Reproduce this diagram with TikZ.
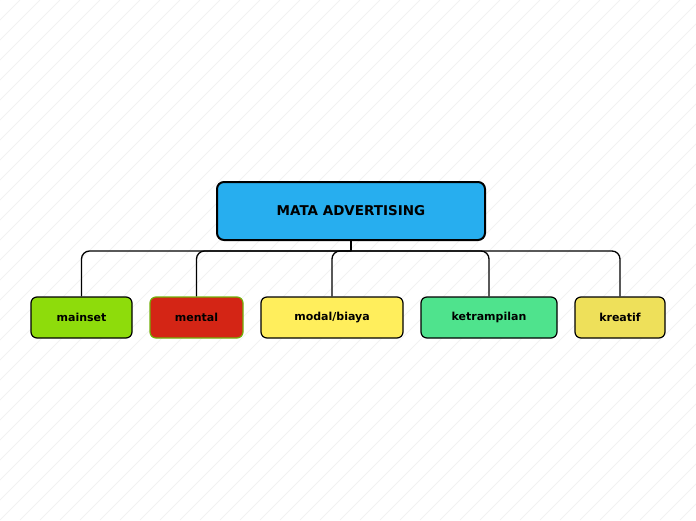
\documentclass[tikz,border=0pt]{standalone}
\usepackage{fontspec}
\setmainfont{DejaVu Sans}
\definecolor{rootc}{HTML}{27AEEF}
\definecolor{c1}{HTML}{8EDC0B}
\definecolor{c2}{HTML}{D42515}
\definecolor{c3}{HTML}{FFEE5C}
\definecolor{c4}{HTML}{4FE38D}
\definecolor{c5}{HTML}{EEE05A}
\definecolor{stripe}{HTML}{F2F2F2}
\begin{document}
\begin{tikzpicture}[x=1pt,y=-1pt,
  box/.style={draw=black,line width=1.2pt,rounded corners=6pt,minimum height=41pt,inner sep=0pt,font=\bfseries\fontsize{11}{13}\selectfont},
  link/.style={draw=black,line width=1.3pt,rounded corners=8pt}]
\useasboundingbox (0,0) rectangle (696,520);
\begin{scope}
\clip (0,0) rectangle (696,520);
\foreach \i in {-520,-500,...,700} \draw[stripe,line width=1pt] (\i,520) -- (\i+520,0);
\end{scope}
\node[box,line width=2pt,fill=rootc,minimum width=268pt,minimum height=58pt,rounded corners=7pt,font=\bfseries\fontsize{13.5}{16}\selectfont] (root) at (351,211) {MATA ADVERTISING};
\node[box,fill=c1,minimum width=101pt] (a) at (81.5,317.5) {mainset};
\node[box,fill=c2,draw=c1!80!black,minimum width=93pt] (b) at (196.5,317.5) {mental};
\node[box,fill=c3,minimum width=142pt] (c) at (332,317.5) {modal/biaya};
\node[box,fill=c4,minimum width=136pt] (d) at (489,317.5) {ketrampilan};
\node[box,fill=c5,minimum width=90pt] (e) at (620,317.5) {kreatif};
\coordinate (j) at (351,251);
\draw[line width=1.3pt] (root.south) -- (j);
\foreach \n in {a,b,c,d,e} \draw[link] (j) -| (\n.north);
\end{tikzpicture}
\end{document}
